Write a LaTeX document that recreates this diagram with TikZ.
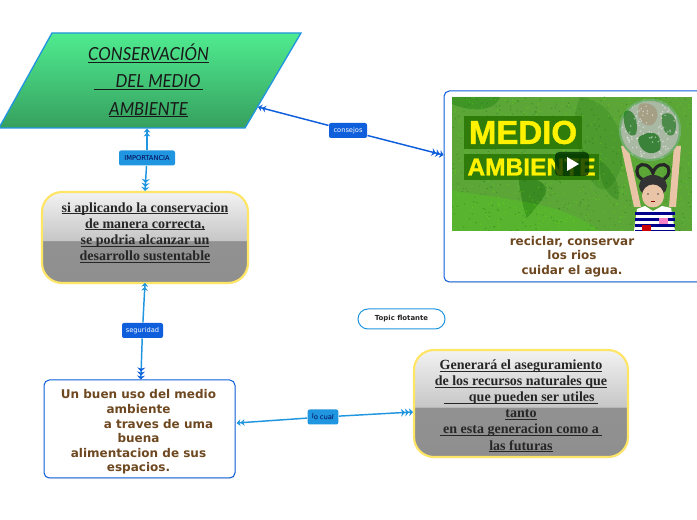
\documentclass[tikz,border=0pt]{standalone}
\usepackage{fontspec}
\setmainfont{Liberation Serif}
\newfontfamily\cajafont{DejaVu Sans}
\newfontfamily\fotofont{Liberation Sans}[BoldFeatures={FakeBold=1.2}]
\newfontfamily\titulofont{Lato}[FakeStretch=0.93]
\usetikzlibrary{arrows.meta,shadows}

\definecolor{lineablue}{HTML}{2196E0}
\definecolor{fuerteblue}{HTML}{0F5FDC}
\definecolor{cafe}{HTML}{6E4820}
\definecolor{amarillo}{HTML}{FFE566}
\definecolor{pasto}{HTML}{5BA637}
\definecolor{verdearriba}{HTML}{4FEB90}
\definecolor{verdeabajo}{HTML}{36A05E}
\definecolor{piel}{HTML}{E9C4A6}
\definecolor{tierra}{HTML}{A9B9A4}

\pgfdeclareverticalshading{brillo}{100bp}{rgb(0bp)=(0.55,0.55,0.55);rgb(48bp)=(0.57,0.57,0.57);rgb(48.5bp)=(0.78,0.78,0.78);rgb(75bp)=(0.95,0.95,0.95);rgb(100bp)=(0.95,0.95,0.95)}

\newcommand{\linea}[1]{\leavevmode\setbox0\hbox{#1}\rlap{\rule[-1.7pt]{\wd0}{0.7pt}}\box0}

\tikzset{every picture/.style={line width=0.75pt},
  sombra/.style={drop shadow={shadow xshift=0.4pt,shadow yshift=-0.8pt,opacity=0.18}},
  cajaamarilla/.style={draw=amarillo,line width=1.6pt,rounded corners=15pt,shading=brillo,sombra},
  textoserif/.style={inner sep=0pt,align=center,text=black!85,font=\fontsize{10.5}{12.1}\selectfont\bfseries},
  cajaazul/.style={draw=fuerteblue,fill=white,rounded corners=4pt,sombra},
  textocafe/.style={inner sep=0pt,align=center,text=cafe,font=\cajafont\fontsize{9}{10.9}\selectfont\bfseries},
  etiqueta/.style={rounded corners=1.5pt,inner sep=0pt,minimum height=11.25pt,font=\cajafont\fontsize{5}{6}\selectfont},
  flecha/.style={line width=1.1pt},
  dos/.style={-{Stealth[length=3pt,width=5pt]Stealth[length=3pt,width=5pt]}},
  tres/.style={-{Stealth[length=3pt,width=6pt]Stealth[length=3pt,width=6pt]Stealth[length=3pt,width=6pt]}}
}

\begin{document}
\begin{tikzpicture}[x=0.75pt,y=0.75pt,yscale=-1,xscale=1]
\fill[white] (0,0) rectangle (697,520);
\useasboundingbox (0,0) rectangle (697,520);

% Title
\draw [lineablue,line width=1pt,top color=verdearriba,bottom color=verdeabajo] (52,33) -- (301,33) -- (245,128) -- (-1,128) -- cycle;
\node (titulotexto) [inner sep=0pt,align=center,text=black!90,font=\titulofont\fontsize{13.5}{20.6}\selectfont\itshape] at (148.5,80.5) {\linea{CONSERVACIÓN}\\\linea{\hspace{16.5pt}DEL MEDIO\,}\\\linea{AMBIENTE}};

% Text Node
\node (importancia) [inner sep=0pt] at (145,237.5) [cajaamarilla,minimum width=154.5pt,minimum height=68.25pt] {};
\node (importanciatexto) [textoserif] at (145,232.5) {\linea{si aplicando la conservacion}\\\linea{de manera correcta,}\\\linea{se podria alcanzar un}\\\linea{desarrollo sustentable}};
% Text Node
\node (asegura) [inner sep=0pt] at (521,403.5) [cajaamarilla,minimum width=160.5pt,minimum height=80.25pt] {};
\node (aseguratexto) [textoserif] at (521,406) {\linea{Generará el aseguramiento}\\\linea{de los recursos naturales que}\\\linea{\hspace{18.75pt}que pueden ser utiles\ }\\\linea{tanto}\\\linea{\ en esta generacion como a\ }\\\linea{las futuras}};
% Text Node
\node (uso) [inner sep=0pt] at (139.5,429) [cajaazul,minimum width=143.25pt,minimum height=73.5pt] {};
\node (usotexto) [textocafe] at (138.5,432) {Un buen uso del medio\\ambiente\\\hspace*{30pt}a traves de uma\\buena\\alimentacion de sus\\espacios.};
% Text Node
\node (consejo) [inner sep=0pt] at (575,186.5) [cajaazul,minimum width=196.5pt,minimum height=143.25pt] {};
\node (consejotexto) [textocafe] at (572,256.5) {reciclar, conservar\\los rios\\cuidar el agua.};
% Text Node
\node (flotante) [draw=lineablue,fill=white,rounded corners=7.5pt,inner sep=0pt,minimum width=65.25pt,minimum height=15pt,text=black!85,font=\cajafont\fontsize{5.2}{6}\selectfont\bfseries] at (401.5,319) {Topic flotante};

% Photo
\begin{scope}
\clip (452,97) rectangle (692,231);
\fill[pasto] (452,97) rectangle (692,231);
\fill[green!45!black,opacity=0.3] (452,97) -- (500,97) .. controls (495,112) and (470,112) .. (452,104) -- cycle;
\fill[green!35!black,opacity=0.35] (518,175) .. controls (535,178) and (550,182) .. (545,195) .. controls (538,205) and (532,212) .. (527,218) .. controls (522,205) and (520,190) .. (518,175) -- cycle;
\fill[green!35!black,opacity=0.15] (580,97) .. controls (610,100) and (625,130) .. (622,165) .. controls (612,195) and (600,195) .. (590,178) .. controls (575,150) and (570,120) .. (580,97) -- cycle;
\fill[green!35!black,opacity=0.2] (600,160) .. controls (612,170) and (622,185) .. (618,200) .. controls (605,195) and (598,178) .. (600,160) -- cycle;
\fill[green!70!yellow,opacity=0.15] (452,231) -- (452,190) .. controls (500,200) and (560,200) .. (600,231) -- cycle;
\pgfmathsetseed{7}
\foreach \i in {1,...,450} {\fill[green!35!black,opacity=0.3] ({452+240*rnd},{97+134*rnd}) circle (0.7);}
\foreach \i in {1,...,450} {\fill[green!60!yellow,opacity=0.3] ({452+240*rnd},{97+134*rnd}) circle (0.7);}
% Girl
\fill[piel] (621,146) -- (628,146) -- (641,207) -- (634,207) -- cycle;
\fill[piel] (674,146) -- (681,146) -- (676,207) -- (669,207) -- cycle;
\draw[black!85,line width=2.4pt] (646,180) .. controls (638,180) and (635,172) .. (638,167) .. controls (642,162) and (650,165) .. (653,173) .. controls (655,165) and (664,162) .. (668,167) .. controls (671,172) and (667,180) .. (660,180);
\fill[black!80] (653,186) ellipse (14 and 11);
\fill[piel] (653,196) ellipse (11 and 11.5);
\fill[black!70] (648,194) circle (0.9);
\fill[black!70] (658,194) circle (0.9);
\fill[red!55!black] (651,201) rectangle (655,202);
\fill[white] (634,231) -- (637,209) -- (645,206) -- (653,211) -- (662,206) -- (671,208) -- (675,231) -- cycle;
\foreach \y in {212,218,224,230} {\fill[blue!55!black] (635,\y) rectangle (675,\y+2.6);}
\fill[red!80!black] (642,225) rectangle (651,231);
\fill[magenta!50!white] (659,218) rectangle (668,224);
% Globe
\fill[tierra] (650,130) circle (31);
\begin{scope}
\clip (650,130) circle (31);
\fill[green!40!black,opacity=0.6] (624,112) .. controls (632,105) and (640,122) .. (636,134) .. controls (630,140) and (622,128) .. (624,112) -- cycle;
\fill[green!40!black,opacity=0.65] (638,138) .. controls (650,128) and (664,132) .. (660,150) .. controls (650,158) and (638,150) .. (638,138) -- cycle;
\fill[green!40!black,opacity=0.55] (662,115) .. controls (672,108) and (680,122) .. (674,134) .. controls (668,140) and (660,128) .. (662,115) -- cycle;
\fill[brown!50!gray,opacity=0.45] (640,104) .. controls (655,100) and (664,115) .. (652,125) .. controls (642,128) and (634,115) .. (640,104) -- cycle;
\foreach \i in {1,...,120} {\fill[white,opacity=0.45] ({619+62*rnd},{99+62*rnd}) circle (0.9);}
\draw[black!40!green,line width=3pt,opacity=0.35] (650,130) circle (31);
\end{scope}
\end{scope}
\node (medio) [fill=green!35!black!85!yellow,fill opacity=0.8,text opacity=1,text=yellow,inner sep=0pt,minimum width=88.5pt,minimum height=24.75pt,font=\fotofont\fontsize{24.75}{26}\selectfont\bfseries] at (523,132.5) {MEDIO};
\node (ambiente) [fill=green!35!black!85!yellow,fill opacity=0.8,text opacity=1,text=yellow,inner sep=0pt,minimum width=101.25pt,minimum height=19.5pt,font=\fotofont\fontsize{18.4}{20}\selectfont\bfseries] at (531.5,167) {AMBIENTE};
\node (video) [fill=black!80!green,fill opacity=0.8,rounded corners=3pt,inner sep=0pt,minimum width=25.5pt,minimum height=18pt] at (572,164) {};
\fill[white] (567,157) -- (579,164) -- (567,171) -- cycle;

% Labels
\node (etqimportancia) [etiqueta,fill=lineablue,text=black!70!blue,minimum width=42pt] at (147,158) {IMPORTANCIA};
\node (etqseguridad) [etiqueta,fill=fuerteblue,text=white,minimum width=30.75pt] at (142.5,330.5) {seguridad};
\node (etqconsejos) [etiqueta,fill=fuerteblue,text=white,minimum width=28.5pt] at (348,130.5) {consejos};
\node (etqlocual) [etiqueta,fill=lineablue,text=black!70!blue,minimum width=23pt] at (323,417) {\rotatebox{-3}{lo cual}};

% Connection
\coordinate (tituloabajo) at (147,128.5);
\coordinate (titulolado) at (258,107);
\coordinate (consejolado) at (443.5,155);
\coordinate (usolado) at (236.5,423);
\coordinate (aseguralado) at (413,412);
\draw [flecha,lineablue,dos] (etqimportancia) -- (tituloabajo);
\draw [flecha,lineablue,tres] (etqimportancia) -- (importancia.north);
\draw [flecha,lineablue,dos] (etqseguridad) -- ([yshift=-1pt]importancia.south);
\draw [flecha,lineablue,-{Stealth[fuerteblue,length=3pt,width=6pt]Stealth[fuerteblue,length=3pt,width=6pt]Stealth[fuerteblue,length=3pt,width=6pt]}] (etqseguridad) -- ([xshift=1pt]uso.north);
\draw [flecha,fuerteblue,dos] (etqconsejos) -- (titulolado);
\draw [flecha,fuerteblue,tres] (etqconsejos) -- (consejolado);
\draw [flecha,lineablue,dos] (etqlocual) -- (usolado);
\draw [flecha,lineablue,tres] (etqlocual) -- (aseguralado);

\end{tikzpicture}
\end{document}
